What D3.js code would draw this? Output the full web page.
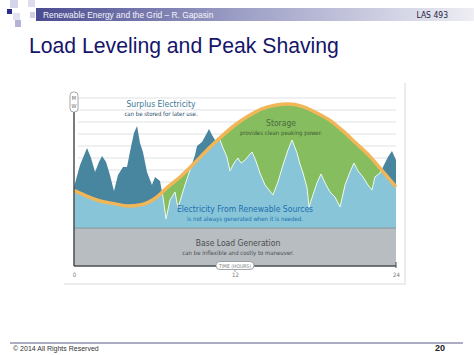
<!DOCTYPE html>
<html><head><meta charset="utf-8">
<script src="https://cdn.jsdelivr.net/npm/d3@7"></script>
<style>
html,body{margin:0;padding:0;background:#fff;}
svg{display:block;}
</style></head>
<body>
<svg id="c" width="474" height="355"></svg>
<script>
// ---- data ----
const demandHours = [0,1,2,3,4,5,6,7,8,9,10,11,12,13,14,15,16,17,18,19,20,21,22,23,24];
const demandValues = [63,58,54,52,50,51,56,66,75,86,97.5,108,117.5,125,131,134,135,133,128,122,113,102.5,92,79,66];
const renewHours = [0,0.45,0.97,1.27,1.57,1.86,2.09,2.39,2.68,2.98,3.28,3.65,3.95,4.17,4.47,4.70,4.92,5.14,5.44,5.81,6.04,6.41,6.63,6.86,7.16,7.53,7.75,8.27,8.65,9.02,9.17,9.54,9.91,10.06,10.29,10.51,10.88,11.11,11.40,11.63,11.93,12.22,12.45,12.75,13.12,13.27,13.56,13.86,14.24,14.83,15.20,15.58,15.95,16.25,16.62,16.84,17.07,17.37,17.52,17.81,18.11,18.41,18.71,19.08,19.45,19.83,20.20,20.57,20.87,21.17,21.54,21.91,22.21,22.43,22.81,23.03,23.40,23.70,24];
const renewValues = [65.8,84.2,98.3,90,78.3,86.7,91.7,86.7,75.8,62.5,75.8,82.5,82.5,95,110.8,116.7,102.5,95,78.3,67.5,74.2,70.8,57.5,39.2,55,61.7,48.3,67.5,80,92.5,100,103.3,110.8,114.2,109.2,105,105,98.3,90.8,79.2,85.8,90,85.8,88.3,93.3,95,87.5,77.5,67.5,59.2,70,84.2,96.7,105,94.2,85,77.5,65,49.2,59.2,69.2,76.7,69.2,61.7,57.5,49.2,67.5,78.3,85.8,79.2,74.2,67.5,63.3,74.2,77.5,82.5,90.8,95.8,88.3];
const baseLoad = 31.5;
const gridValues = [10,20,30,40,50,60,70,80,90,100,110,120,130,140];
const xTicks = [0,12,24];

const svg = d3.select("#c");
const defs = svg.append("defs");

// ---- slide header ----
const grad = defs.append("linearGradient").attr("id","ban").attr("x1","0").attr("x2","1");
grad.append("stop").attr("offset","0").attr("stop-color","#4a4c90");
grad.append("stop").attr("offset","0.45").attr("stop-color","#9a9cc4");
grad.append("stop").attr("offset","1").attr("stop-color","#eeeef4");
svg.append("rect").attr("x",36).attr("y",8).attr("width",438).attr("height",13).attr("fill","url(#ban)");
const sq = [[10,0,8,8,"#d4d4ea"],[28,0,7,7,"#dcdcee"],[7,9,5,5,"#2c2c8a"],[13,13,7,7,"#e2e2f0"],[15,20,6,7,"#b4b4d8"],[30,12,5,6,"#d0d0e8"]];
svg.selectAll("rect.sq").data(sq).enter().append("rect").attr("class","sq")
  .attr("x",d=>d[0]).attr("y",d=>d[1]).attr("width",d=>d[2]).attr("height",d=>d[3]).attr("fill",d=>d[4]);
svg.append("text").attr("x",43).attr("y",18).attr("fill","#f4f4fa")
  .style("font","8.4px 'Liberation Sans', Arial, sans-serif").text("Renewable Energy and the Grid – R. Gapasin");
svg.append("text").attr("x",448).attr("y",18).attr("text-anchor","end").attr("fill","#1c1c3c")
  .style("font","8.5px 'DejaVu Sans Condensed', 'Liberation Sans', sans-serif").text("LAS 493");
svg.append("text").attr("x",29).attr("y",53).attr("fill","#15156a")
  .style("font","21.2px 'Liberation Sans', Arial, sans-serif").text("Load Leveling and Peak Shaving");

// ---- footer ----
svg.append("line").attr("x1",10).attr("x2",463).attr("y1",343).attr("y2",343).attr("stroke","#5a5c8a").attr("stroke-width",1);
svg.append("text").attr("x",13).attr("y",351).attr("fill","#333")
  .style("font","7px 'Liberation Sans', Arial, sans-serif").text("© 2014   All Rights Reserved");
svg.append("text").attr("x",445).attr("y",351).attr("text-anchor","end").attr("fill","#222")
  .style("font","bold 9px 'Liberation Sans', Arial, sans-serif").text("20");

// ---- chart panel ----
svg.append("rect").attr("x",64).attr("y",83).attr("width",342).attr("height",202).attr("fill","#ececec");
svg.append("rect").attr("x",62).attr("y",81).attr("width",342).attr("height",202).attr("fill","#fff");

const x = d3.scaleLinear().domain([0,24]).range([74,396]);
const y = d3.scaleLinear().domain([0,150]).range([266,86]);

// grid
svg.append("g").selectAll("line").data(gridValues).enter().append("line")
  .attr("x1",x(0)+4).attr("x2",x(24)).attr("y1",d=>y(d)).attr("y2",d=>y(d))
  .attr("stroke","#dde1e4").attr("stroke-width",1);

const dem = demandHours.map((h,i)=>[h,demandValues[i]]);
const ren = renewHours.map((h,i)=>[h,renewValues[i]]);
const dCurve = d3.curveMonotoneX;

// clip paths
const belowArea = d3.area().x(d=>x(d[0])).y0(y(0)).y1(d=>y(d[1])).curve(dCurve);
const aboveArea = d3.area().x(d=>x(d[0])).y0(y(160)).y1(d=>y(d[1])).curve(dCurve);
defs.append("clipPath").attr("id","below").append("path").attr("d",belowArea(dem));
defs.append("clipPath").attr("id","above").append("path").attr("d",aboveArea(dem));

// green storage (base to demand)
svg.append("path").attr("d",d3.area().x(d=>x(d[0])).y0(y(baseLoad)).y1(d=>y(d[1])).curve(dCurve)(dem))
  .attr("fill","#86bd5f");
// renewable area
const renArea = d3.area().x(d=>x(d[0])).y0(y(baseLoad)).y1(d=>y(d[1]));
svg.append("path").attr("d",renArea(ren)).attr("fill","#88c5d8").attr("clip-path","url(#below)");
svg.append("path").attr("d",renArea(ren)).attr("fill","#48859e").attr("clip-path","url(#above)");
// white renewable line in storage zone
svg.append("path").attr("d",d3.line().x(d=>x(d[0])).y(d=>y(d[1]))(ren))
  .attr("fill","none").attr("stroke","#eef8f0").attr("stroke-width",1).attr("clip-path","url(#below)");
// base load
svg.append("rect").attr("x",x(0)).attr("y",y(baseLoad)).attr("width",x(24)-x(0)).attr("height",y(0)-y(baseLoad))
  .attr("fill","#b8bdc1");
svg.append("line").attr("x1",x(0)).attr("x2",x(24)).attr("y1",y(baseLoad)).attr("y2",y(baseLoad))
  .attr("stroke","#8d9ba3").attr("stroke-width",1.2);
// demand line
svg.append("path").attr("d",d3.line().x(d=>x(d[0])).y(d=>y(d[1])).curve(dCurve)(dem))
  .attr("fill","none").attr("stroke","#f1b658").attr("stroke-width",3.5);

// axes
svg.append("line").attr("x1",x(0)).attr("x2",x(24)).attr("y1",y(0)).attr("y2",y(0)).attr("stroke","#4a4f52").attr("stroke-width",1.5);
svg.append("line").attr("x1",x(0)).attr("x2",x(0)).attr("y1",112).attr("y2",y(0)).attr("stroke","#4a4f52").attr("stroke-width",1.5);
svg.append("line").attr("x1",x(24)).attr("x2",x(24)).attr("y1",y(0)-4).attr("y2",y(0)+2).attr("stroke","#4a4f52").attr("stroke-width",1);
const xAxis = d3.axisBottom(x).tickValues(xTicks).tickSize(0).tickPadding(7).tickFormat(d3.format("d"));
const gx = svg.append("g").attr("transform",`translate(0,${y(0)})`).call(xAxis);
gx.select(".domain").remove();
gx.selectAll("text").attr("fill","#777").style("font","6px 'DejaVu Sans Condensed', sans-serif");

// time pill
svg.append("rect").attr("x",x(12)-19).attr("y",y(0)-4.5).attr("width",38).attr("height",8).attr("rx",4)
  .attr("fill","#fff").attr("stroke","#8a9094").attr("stroke-width",0.8);
svg.append("text").attr("x",x(12)).attr("y",y(0)+2).attr("text-anchor","middle").attr("fill","#7a7f83")
  .style("font","5px 'DejaVu Sans Condensed', sans-serif").text("TIME (HOURS)");
svg.append("line").attr("x1",x(12)).attr("x2",x(12)).attr("y1",y(0)+3.5).attr("y2",y(0)+6).attr("stroke","#8a9094").attr("stroke-width",0.8);

// MW box
svg.append("rect").attr("x",x(0)-4).attr("y",92).attr("width",8).attr("height",20).attr("rx",3.5)
  .attr("fill","#fff").attr("stroke","#8a9094").attr("stroke-width",0.8);
svg.append("text").attr("x",x(0)).attr("y",100).attr("text-anchor","middle").attr("fill","#666")
  .style("font","5.5px 'DejaVu Sans Condensed', sans-serif").text("M");
svg.append("text").attr("x",x(0)).attr("y",108).attr("text-anchor","middle").attr("fill","#666")
  .style("font","5.5px 'DejaVu Sans Condensed', sans-serif").text("W");

// annotations
function label(cx, cy, t1, t2, c1, c2, s1, s2, gap){
  svg.append("text").attr("x",cx).attr("y",cy).attr("text-anchor","middle").attr("fill",c1)
    .style("font",`${s1}px 'DejaVu Sans Condensed', 'Liberation Sans Narrow', sans-serif`).text(t1);
  svg.append("text").attr("x",cx).attr("y",cy+gap).attr("text-anchor","middle").attr("fill",c2)
    .style("font",`${s2}px 'DejaVu Sans Condensed', 'Liberation Sans Narrow', sans-serif`).text(t2);
}
label(161,107,"Surplus Electricity","can be stored for later use.","#3d7896","#2a4d66",8.5,6,9);
label(281,126,"Storage","provides clean peaking power.","#4d6a40","#3f5a34",8.5,6,9);
label(245,212,"Electricity From Renewable Sources","is not always generated when it is needed.","#1d6fb0","#1d6fb0",8.5,6,8.5);
label(238,246,"Base Load Generation","can be inflexible and costly to maneuver.","#4a4d50","#4a4d50",8.5,6,9);
</script>
</body></html>
